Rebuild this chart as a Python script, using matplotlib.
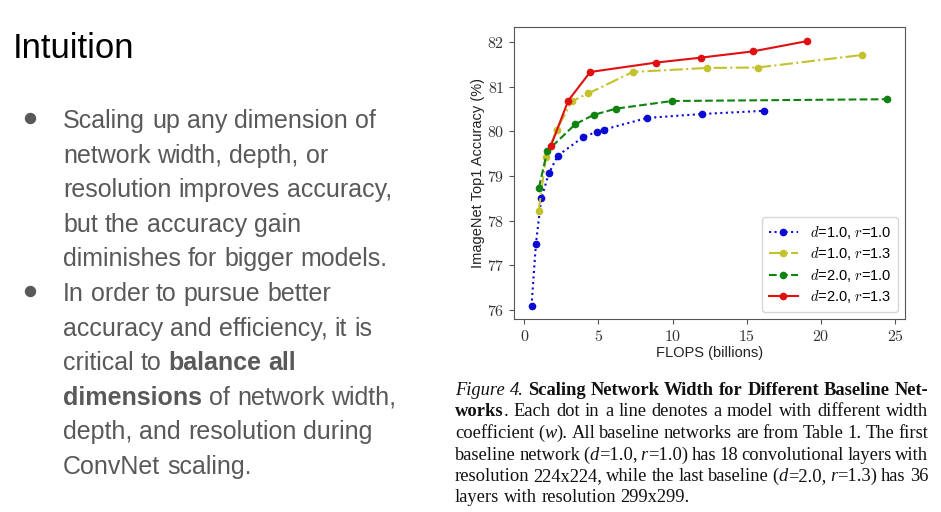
import matplotlib
matplotlib.use("Agg")
import matplotlib.pyplot as plt
from matplotlib.lines import Line2D
from matplotlib.ticker import FuncFormatter

W, H = 941, 512

# FLOPS (billions) vs ImageNet top-1 accuracy
x_d10_r10 = [0.49, 0.79, 1.15, 1.66, 2.27, 3.96, 4.88, 5.37, 8.27, 11.98, 16.16]
y_d10_r10 = [76.09, 77.49, 78.50, 79.06, 79.46, 79.87, 79.99, 80.04, 80.30, 80.39, 80.46]

x_d10_r13 = [0.97, 1.46, 2.18, 3.19, 4.32, 7.31, 12.32, 15.74, 22.77]
y_d10_r13 = [78.21, 79.42, 80.03, 80.67, 80.85, 81.33, 81.42, 81.43, 81.71]

x_d20_r10 = [0.99, 1.55, 3.44, 4.68, 6.21, 9.96, 24.48]
y_d20_r10 = [78.74, 79.56, 80.16, 80.37, 80.51, 80.68, 80.72]

x_d20_r13 = [1.80, 2.97, 4.45, 8.88, 11.89, 15.40, 19.06]
y_d20_r13 = [79.68, 80.69, 81.33, 81.54, 81.65, 81.79, 82.02]

series_labels = [r"$d$=1.0, $r$=1.0", r"$d$=1.0, $r$=1.3",
                 r"$d$=2.0, $r$=1.0", r"$d$=2.0, $r$=1.3"]
xticks = [0, 5, 10, 15, 20, 25]
yticks = [76, 77, 78, 79, 80, 81, 82]

title = "Intuition"
bullet_lines = [
    "Scaling up any dimension of",
    "network width, depth, or",
    "resolution improves accuracy,",
    "but the accuracy gain",
    "diminishes for bigger models.",
    "In order to pursue better",
    "accuracy and efficiency, it is",
    "critical to *balance all*",
    "*dimensions* of network width,",
    "depth, and resolution during",
    "ConvNet scaling.",
]
bullet_starts = [0, 5]

caption_lines = [
    "_Figure 4._ *Scaling Network Width for Different Baseline Net-*",
    "*works*. Each dot in a line denotes a model with different width",
    "coefficient (_w_). All baseline networks are from Table 1. The first",
    "baseline network (_d_=1.0, _r_=1.0) has 18 convolutional layers with",
    "resolution 224x224, while the last baseline (_d_=2.0, _r_=1.3) has 36",
    "layers with resolution 299x299.",
]

plt.rcParams['mathtext.fontset'] = 'cm'
fig = plt.figure(figsize=(W / 100, H / 100), dpi=100)
fig.patch.set_facecolor('white')


def fx(px):
    return px / W


def fy(py):
    return 1 - py / H


# ---- chart ----
ax = fig.add_axes([fx(514), fy(319), fx(905) - fx(514), fy(27.3) - fy(319)])
ax.plot(x_d10_r10, y_d10_r10, ':', color='#0a0ad2', marker='o', ms=4.5, lw=1.5, label=series_labels[0])
ax.plot(x_d10_r13, y_d10_r13, '-.', color='#c4c22c', marker='o', ms=4.5, lw=1.5, label=series_labels[1])
ax.plot(x_d20_r10, y_d20_r10, '--', color='#0f820f', marker='o', ms=4.5, lw=1.5, label=series_labels[2])
ax.plot(x_d20_r13, y_d20_r13, '-', color='#e01010', marker='o', ms=4.5, lw=1.5, label=series_labels[3])
ax.set_xlim(-0.69, 25.67)
ax.set_ylim(75.8, 82.33)
ax.set_xticks(xticks)
ax.set_yticks(yticks)
ax.xaxis.set_major_formatter(FuncFormatter(lambda v, p: f"${v:g}$"))
ax.yaxis.set_major_formatter(FuncFormatter(lambda v, p: f"${v:g}$"))
ax.tick_params(labelsize=11.5, length=3.5, color='#555555', labelcolor='#333333')
for s in ax.spines.values():
    s.set_color('#555555')
ax.set_xlabel("FLOPS (billions)", fontsize=10.5, family='Liberation Sans', color='#222222', labelpad=2)
ax.set_ylabel("ImageNet Top1 Accuracy (%)", fontsize=10.5, family='Liberation Sans', color='#222222', labelpad=1)
leg = ax.legend(loc='lower right', prop={'family': 'Liberation Sans', 'size': 10.5},
                edgecolor='#cccccc', fancybox=True, labelspacing=0.3, borderpad=0.45)

# ---- rich text helpers ----
renderer = fig.canvas.get_renderer()


def parse(line):
    words, runs, buf = [], [], ""
    it = bd = False
    for ch in line:
        if ch in "_* ":
            if buf:
                runs.append((buf, it, bd))
                buf = ""
            if ch == "_":
                it = not it
            elif ch == "*":
                bd = not bd
            elif runs:
                words.append(runs)
                runs = []
        else:
            buf += ch
    if buf:
        runs.append((buf, it, bd))
    if runs:
        words.append(runs)
    return words


def width_of(text, size, family, it=False, bd=False):
    t = fig.text(0, 0, text, fontsize=size, family=family,
                 style='italic' if it else 'normal', weight='bold' if bd else 'normal')
    w = t.get_window_extent(renderer).width
    t.remove()
    return w


def draw_line(line, x0, base, size, family, color, right=None):
    words = parse(line)
    placed = []
    total = 0
    for w in words:
        wp = []
        for text, it, bd in w:
            t = fig.text(0, 0, text, fontsize=size, family=family, color=color,
                         style='italic' if it else 'normal',
                         weight='bold' if bd else 'normal',
                         ha='left', va='baseline')
            wd = t.get_window_extent(renderer).width
            wp.append((t, wd))
            total += wd
        placed.append(wp)
    space = width_of("x x", size, family) - width_of("xx", size, family)
    if right is not None and len(placed) > 1:
        space = (right - x0 - total) / (len(placed) - 1)
    x = x0
    for wp in placed:
        for t, wd in wp:
            t.set_position((fx(x), fy(base)))
            x += wd
        x += space


# ---- left slide text ----
fig.text(fx(13), fy(58), title, fontsize=25, family='Liberation Sans', color='black',
         ha='left', va='baseline')
for i, line in enumerate(bullet_lines):
    base = 128 + i * 34.6
    draw_line(line, 63, base, 18, 'Liberation Sans', '#595959')
    if i in bullet_starts:
        fig.add_artist(Line2D([fx(30)], [fy(base - 10)], transform=fig.transFigure,
                              marker='o', ms=7.2, color='#595959', ls='none'))

# ---- figure caption ----
for i, line in enumerate(caption_lines):
    base = 395 + i * 21.5
    right = 928 if i < len(caption_lines) - 1 else None
    draw_line(line, 455, base, 13.3, 'Liberation Serif', '#111111', right=right)

fig.savefig("out.png", dpi=100, facecolor='white')
